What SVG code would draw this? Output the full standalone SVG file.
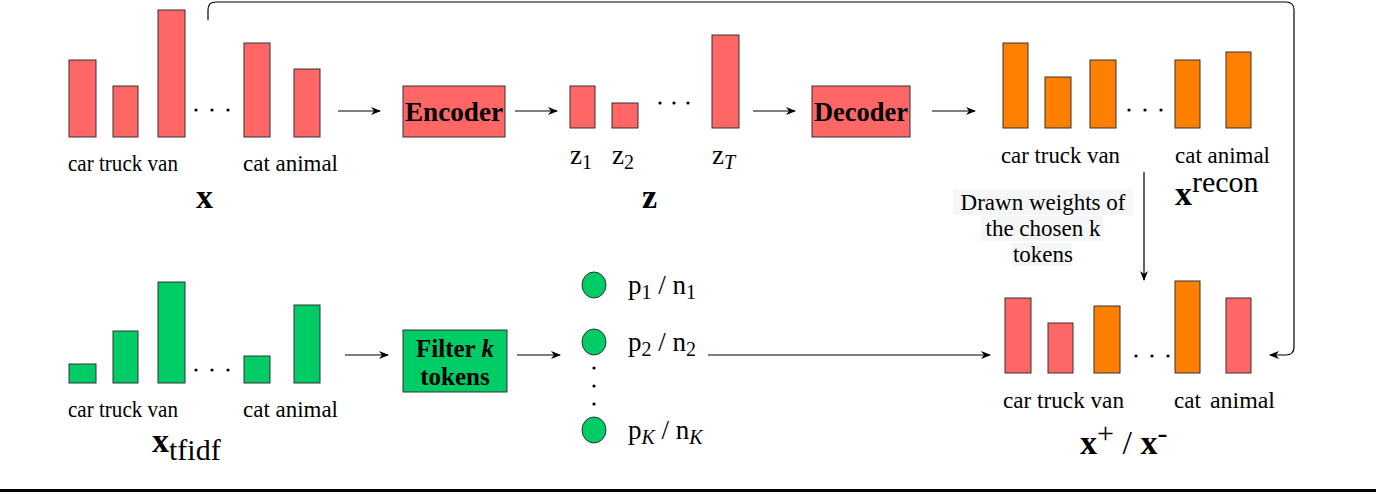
<svg xmlns="http://www.w3.org/2000/svg" width="1376" height="495" viewBox="0 0 1376 495">
<defs>
<marker id="ah" markerWidth="10" markerHeight="8" refX="9" refY="4" orient="auto" markerUnits="userSpaceOnUse"><path d="M0,0 L10,4 L0,8 L3,4 Z" fill="#000"/></marker>
</defs>
<style>
.r{fill:#ff6666;stroke:#333;stroke-width:1}
.o{fill:#ff8000;stroke:#333;stroke-width:1}
.g{fill:#00cc66;stroke:#333;stroke-width:1}
text{font-family:"Liberation Serif","Times New Roman",serif;fill:#000}
.l{font-size:23px}
.b{font-weight:bold}
.c{stroke:#000;stroke-width:1.2;fill:none}
.dot{fill:#000}
</style>
<rect width="1376" height="495" fill="#fff"/>
<g id="x">
<rect class="r" x="69" y="60" width="27" height="77"/><rect class="r" x="113" y="86" width="25" height="51"/><rect class="r" x="158" y="10" width="27" height="127"/><rect class="r" x="244" y="43" width="26" height="94"/><rect class="r" x="294" y="69" width="26" height="68"/>
<circle class="dot" cx="196" cy="110" r="1.6"/><circle class="dot" cx="212" cy="110" r="1.6"/><circle class="dot" cx="228" cy="110" r="1.6"/>
<text class="l" x="68" y="171" textLength="110" lengthAdjust="spacingAndGlyphs">car truck van</text><text class="l" x="243" y="171" textLength="95" lengthAdjust="spacingAndGlyphs">cat animal</text>
<text class="b" x="196" y="208" font-size="34">x</text>
</g>
<g id="encoder"><rect class="r" x="403" y="86" width="102" height="51"/><text class="b" x="405" y="121" font-size="28" textLength="98" lengthAdjust="spacingAndGlyphs">Encoder</text></g>
<g id="z">
<rect class="r" x="570" y="86" width="25" height="42"/><rect class="r" x="612" y="103" width="26" height="25"/><rect class="r" x="712" y="35" width="27" height="93"/>
<circle class="dot" cx="660" cy="103" r="1.6"/><circle class="dot" cx="674" cy="103" r="1.6"/><circle class="dot" cx="688" cy="103" r="1.6"/>
<text x="570" y="164" font-size="27">z<tspan font-size="20" dy="5">1</tspan></text>
<text x="612" y="164" font-size="27">z<tspan font-size="20" dy="5">2</tspan></text>
<text x="712" y="164" font-size="27">z<tspan font-size="20" dy="5" font-style="italic">T</tspan></text>
<text class="b" x="642" y="208" font-size="34">z</text>
</g>
<g id="decoder"><rect class="r" x="812" y="86" width="98" height="51"/><text class="b" x="814" y="121" font-size="28" textLength="94" lengthAdjust="spacingAndGlyphs">Decoder</text></g>
<g id="xrecon">
<rect class="o" x="1003" y="43" width="25" height="85"/><rect class="o" x="1045" y="77" width="26" height="51"/><rect class="o" x="1090" y="60" width="26" height="68"/><rect class="o" x="1175" y="60" width="25" height="68"/><rect class="o" x="1226" y="52" width="25" height="76"/>
<circle class="dot" cx="1129" cy="110" r="1.6"/><circle class="dot" cx="1145" cy="110" r="1.6"/><circle class="dot" cx="1161" cy="110" r="1.6"/>
<text class="l" x="1001" y="163" textLength="119" lengthAdjust="spacingAndGlyphs">car truck van</text><text class="l" x="1175" y="163" textLength="95" lengthAdjust="spacingAndGlyphs">cat animal</text>
<text x="1175" y="205" font-size="34"><tspan class="b">x</tspan><tspan font-size="30" dy="-13">recon</tspan></text>
</g>
<g id="note">
<rect x="953" y="189" width="180" height="26" fill="#f4f6f8"/><rect x="981" y="216" width="122" height="25" fill="#f4f6f8"/><rect x="1012" y="243" width="60" height="23" fill="#f4f6f8"/>
<text class="l" x="1043" y="210" text-anchor="middle">Drawn weights of</text>
<text class="l" x="1043" y="236" text-anchor="middle">the chosen k</text>
<text class="l" x="1043" y="262" text-anchor="middle">tokens</text>
</g>
<g id="xtfidf">
<rect class="g" x="69" y="364" width="27" height="19"/><rect class="g" x="113" y="331" width="25" height="52"/><rect class="g" x="158" y="282" width="27" height="101"/><rect class="g" x="244" y="356" width="26" height="27"/><rect class="g" x="294" y="305" width="26" height="78"/>
<circle class="dot" cx="196" cy="370" r="1.6"/><circle class="dot" cx="212" cy="370" r="1.6"/><circle class="dot" cx="228" cy="370" r="1.6"/>
<text class="l" x="68" y="417" textLength="110" lengthAdjust="spacingAndGlyphs">car truck van</text><text class="l" x="243" y="417" textLength="95" lengthAdjust="spacingAndGlyphs">cat animal</text>
<text x="152" y="452" font-size="34"><tspan class="b">x</tspan><tspan font-size="30" dy="8">tfidf</tspan></text>
</g>
<g id="filter"><rect class="g" x="403" y="330" width="104" height="62"/><text class="b" x="455" y="357" font-size="25" text-anchor="middle">Filter <tspan font-style="italic">k</tspan></text><text class="b" x="455" y="385" font-size="25" text-anchor="middle">tokens</text></g>
<g id="tokens">
<ellipse class="g" cx="594" cy="285" rx="12" ry="13"/><ellipse class="g" cx="594" cy="342" rx="12" ry="13"/><ellipse class="g" cx="594" cy="430" rx="12" ry="13"/>
<circle class="dot" cx="594" cy="368" r="1.6"/><circle class="dot" cx="594" cy="386" r="1.6"/><circle class="dot" cx="594" cy="404" r="1.6"/>
<text x="628" y="294" font-size="27">p<tspan font-size="20" dy="5">1</tspan><tspan dy="-5"> / n</tspan><tspan font-size="20" dy="5">1</tspan></text>
<text x="628" y="351" font-size="27">p<tspan font-size="20" dy="5">2</tspan><tspan dy="-5"> / n</tspan><tspan font-size="20" dy="5">2</tspan></text>
<text x="628" y="439" font-size="27">p<tspan font-size="20" dy="5" font-style="italic">K</tspan><tspan dy="-5"> / n</tspan><tspan font-size="20" dy="5" font-style="italic">K</tspan></text>
</g>
<g id="xpm">
<rect class="r" x="1005" y="298" width="26" height="75"/><rect class="r" x="1048" y="323" width="25" height="50"/><rect class="o" x="1094" y="306" width="26" height="67"/><rect class="o" x="1175" y="281" width="25" height="92"/><rect class="r" x="1226" y="298" width="25" height="75"/>
<circle class="dot" cx="1136" cy="356" r="1.6"/><circle class="dot" cx="1152" cy="356" r="1.6"/><circle class="dot" cx="1168" cy="356" r="1.6"/>
<text class="l" x="1003" y="408" textLength="121" lengthAdjust="spacingAndGlyphs">car truck van</text><text class="l" x="1174" y="408">cat</text><text class="l" x="1210" y="408" textLength="65" lengthAdjust="spacingAndGlyphs">animal</text>
<text x="1080" y="454" font-size="34"><tspan class="b">x</tspan><tspan font-size="30" dy="-11">+</tspan><tspan dy="11"> / </tspan><tspan class="b">x</tspan><tspan font-size="30" dy="-11">-</tspan></text>
</g>
<g id="connectors">
<line class="c" x1="338" y1="111" x2="380" y2="111" marker-end="url(#ah)"/>
<line class="c" x1="515" y1="111" x2="557" y2="111" marker-end="url(#ah)"/>
<line class="c" x1="753" y1="111" x2="795" y2="111" marker-end="url(#ah)"/>
<line class="c" x1="932" y1="111" x2="975" y2="111" marker-end="url(#ah)"/>
<line class="c" x1="1144" y1="172" x2="1144" y2="280" marker-end="url(#ah)"/>
<line class="c" x1="345" y1="355" x2="388" y2="355" marker-end="url(#ah)"/>
<line class="c" x1="517" y1="355" x2="560" y2="355" marker-end="url(#ah)"/>
<line class="c" x1="708" y1="355" x2="990" y2="355" marker-end="url(#ah)"/>
<path class="c" d="M208,20 L208,10 Q208,2 216,2 L1286,2 Q1294,2 1294,10 L1294,347 Q1294,355 1286,355 L1270,355" marker-end="url(#ah)"/>
</g>
<rect x="0" y="489" width="1376" height="3" fill="#000"/>
</svg>
